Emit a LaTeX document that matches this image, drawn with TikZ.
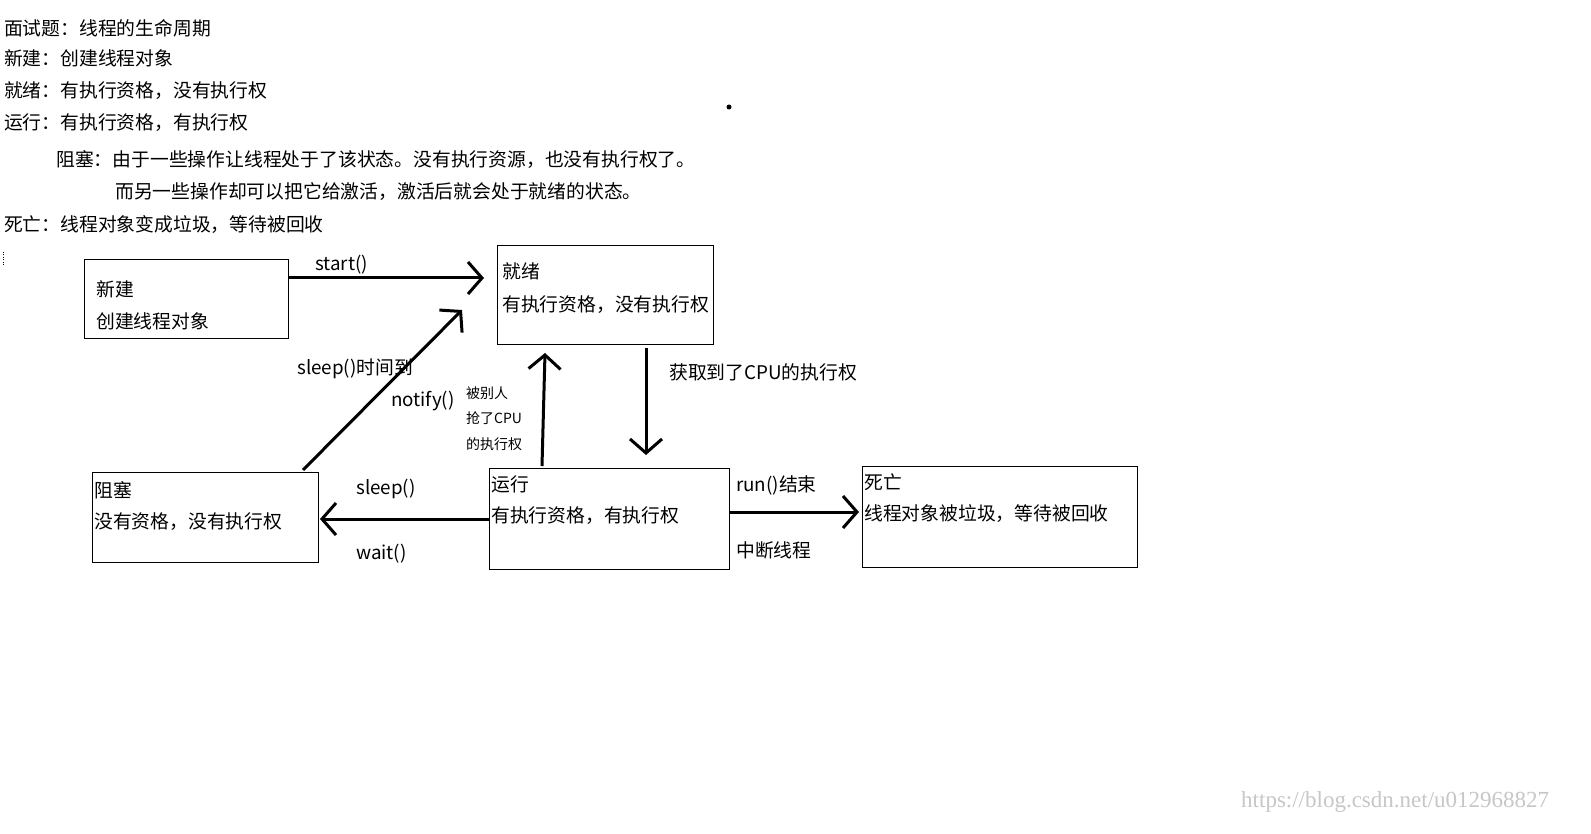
\documentclass[tikz,border=0pt]{standalone}
\usepackage{fontspec}
\setmainfont{Noto Sans CJK SC}
\usetikzlibrary{arrows.meta}
\begin{document}
\begin{tikzpicture}[x=1pt,y=-1pt,
  txt/.style={anchor=west,inner sep=0pt,font=\fontsize{18.8}{19}\selectfont},
  small/.style={anchor=west,inner sep=0pt,font=\fontsize{14}{14}\selectfont},
  box/.style={draw,line width=0.9pt},
  arr/.style={line width=3pt,-{Straight Barb[length=14pt,width=32pt,line width=3pt]}}]
\useasboundingbox[fill=white] (0,0) rectangle (1591,834);
\node[txt] (t1) at (4,28) {面试题：线程的生命周期};
\node[txt] (t2) at (4,58) {新建：创建线程对象};
\node[txt] (t3) at (4,91) {就绪：有执行资格，没有执行权};
\node[txt] (t4) at (4,123) {运行：有执行资格，有执行权};
\node[txt] (t5) at (56,160) {阻塞：由于一些操作让线程处于了该状态。没有执行资源，也没有执行权了。};
\node[txt] (t6) at (115,192) {而另一些操作却可以把它给激活，激活后就会处于就绪的状态。};
\node[txt] (t7) at (4,225) {死亡：线程对象变成垃圾，等待被回收};
\fill (729,107) circle (2.5);
\draw[dotted] (3,252) -- (3,266);
% boxes
\draw[box] (84,259) rectangle (288,338);
\node[txt] (a1) at (96,289) {新建};
\node[txt] (a2) at (96,321) {创建线程对象};
\draw[box] (497,245) rectangle (713,344);
\node[txt] (b1) at (502,271) {就绪};
\node[txt] (b2) at (502,305) {有执行资格，没有执行权};
\draw[box] (92,472) rectangle (318,562);
\node[txt] (c1) at (94,490) {阻塞};
\node[txt] (c2) at (94,522) {没有资格，没有执行权};
\draw[box] (489,468) rectangle (729,569);
\node[txt] (d1) at (491,484) {运行};
\node[txt] (d2) at (491,516) {有执行资格，有执行权};
\draw[box] (862,466) rectangle (1137,567);
\node[txt] (e1) at (864,482) {死亡};
\node[txt] (e2) at (864,514) {线程对象被垃圾，等待被回收};
% arrow points
\coordinate (p1) at (288,278); \coordinate (p2) at (484,278);
\coordinate (q1) at (303,470); \coordinate (q2) at (462,310);
\coordinate (r1) at (542,466); \coordinate (r2) at (545,353);
\coordinate (s1) at (646,348); \coordinate (s2) at (646,455);
\coordinate (u1) at (489,519); \coordinate (u2) at (320,519);
\coordinate (v1) at (729,512); \coordinate (v2) at (859,512);
\draw[arr] (p1) -- (p2);
\draw[arr] (q1) -- (q2);
\draw[arr] (r1) -- (r2);
\draw[arr] (s1) -- (s2);
\draw[arr] (u1) -- (u2);
\draw[arr] (v1) -- (v2);
% labels
\node[txt] (l1) at (315,265) {start()};
\node[txt] (l2) at (297,369) {sleep()时间到};
\node[txt] (l3) at (391,401) {notify()};
\node[small] (l4) at (466,393) {被别人};
\node[small] (l5) at (466,418) {抢了CPU};
\node[small] (l6) at (466,444) {的执行权};
\node[txt] (l7) at (669,372) {获取到了CPU的执行权};
\node[txt] (l8) at (356,489) {sleep()};
\node[txt] (l9) at (356,554) {wait()};
\node[txt] (l10) at (736,485) {run()结束};
\node[txt] (l11) at (736,550) {中断线程};
\node[anchor=west,inner sep=0pt,text=black!22,font=\fontspec{Liberation Serif}\fontsize{23}{23}\selectfont] (w) at (1241,802) {https://blog.csdn.net/u012968827};
\end{tikzpicture}
\end{document}
